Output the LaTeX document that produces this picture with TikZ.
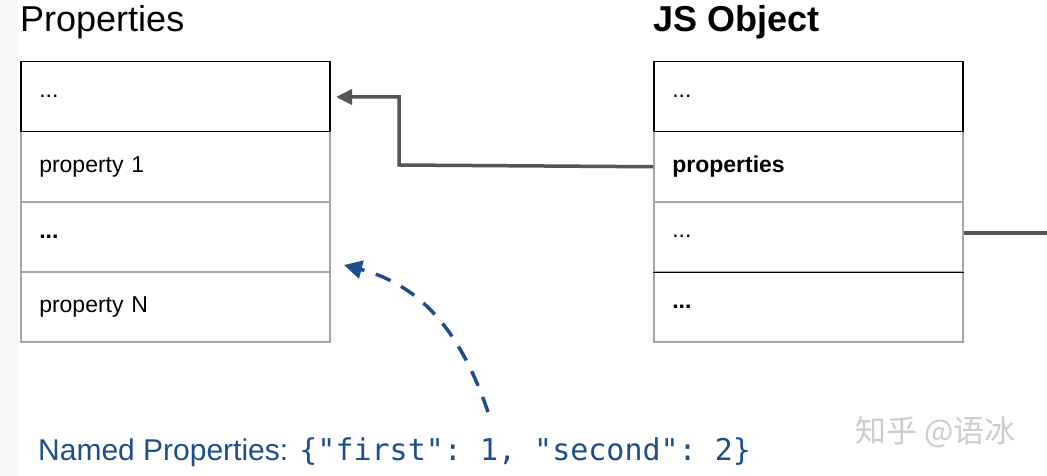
\documentclass[tikz,border=0pt]{standalone}
\usepackage{fontspec}
\setmainfont{Liberation Sans}
\setmonofont{DejaVu Sans Mono}
\newfontfamily\cjk{Noto Sans CJK SC}
\usetikzlibrary{arrows.meta}
\definecolor{navy}{HTML}{1F4E8C}
\definecolor{edge}{HTML}{555555}
\tikzset{x=1pt,y=-1pt,
 cell/.style={draw=gray!70,line width=1.5pt,minimum width=309pt,minimum height=70pt,inner sep=0pt,anchor=north west,font=\fontsize{23}{26}\selectfont,text width=272pt,align=left},
 title/.style={anchor=west,font=\fontsize{36}{40}\selectfont,inner sep=0pt}}
\begin{document}
\begin{tikzpicture}
\useasboundingbox[fill=white] (0,0) rectangle (1047,476);
\fill[gray!6] (0,0) rectangle (18,476);
\node[title] (pt) at (20,22) {Properties};
\node[title,font=\fontsize{36}{40}\selectfont\bfseries] (jt) at (653,22) {JS Object};
% left box
\node[cell] (l2) at (20,131) {property 1};
\node[cell] (l3) at (20,201) {\textbf{...}};
\node[cell] (l4) at (20,271) {property N};
\node[cell,draw=black] (l1) at (20,61) {...};
% right box
\node[cell] (r2) at (653,131) {\textbf{properties}};
\node[cell] (r3) at (653,201) {...};
\node[cell] (r4) at (653,271) {\textbf{...}};
\draw[black,line width=1.8pt] (r3.south west) -- (r3.south east);
\node[cell,draw=black] (r1) at (653,61) {...};
% connectors
\coordinate (tip) at (336,97);
\draw[edge,line width=3.5pt,-{Triangle[length=16pt,width=15pt]}] (r2.west) -- (399,165) -- (399,97) -- (tip);
\coordinate (rout) at (1047,233);
\draw[edge,line width=3.5pt] (r3.east |- rout) -- (rout);
\node[anchor=west,inner sep=0pt,text=navy,font=\fontsize{30}{34}\selectfont] (np) at (38,452) {Named Properties: \texttt{\{"first": 1, "second": 2\}}};
\coordinate (ds) at (488,412);
\coordinate (dt) at (344,265);
\draw[navy,line width=3.5pt,dash pattern=on 16pt off 12pt,-{Triangle[length=18pt,width=18pt]}] (ds) .. controls (460,330) and (420,285) .. (dt);
\node[anchor=west,inner sep=0pt,text=gray!40,font=\cjk\fontsize{31}{34}\selectfont] (wm) at (855,432) {知乎 @语冰};
\end{tikzpicture}
\end{document}
